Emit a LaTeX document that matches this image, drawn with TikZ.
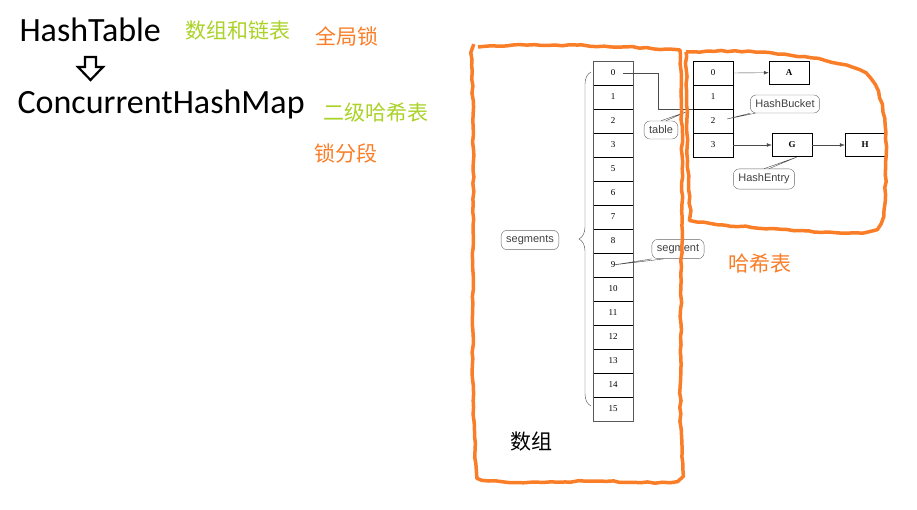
\documentclass[tikz,border=0pt]{standalone}
\usepackage{fontspec}
\setmainfont{Liberation Sans}
\newfontfamily\calfont{Carlito}
\newfontfamily\cjk{Noto Sans CJK SC}
\newfontfamily\ser{Liberation Serif}
\usetikzlibrary{decorations.pathmorphing,arrows.meta,decorations.pathreplacing}
\definecolor{og}{RGB}{250,125,40}
\definecolor{gr}{RGB}{170,210,40}
\tikzset{
 cell/.style={draw,minimum width=40pt,minimum height=24pt,inner sep=0,font=\ser\fontsize{9}{10}\selectfont},
 bx/.style={draw,minimum width=40pt,minimum height=23pt,inner sep=0,font=\ser\bfseries\fontsize{9}{10}\selectfont},
 call/.style={draw=gray!80!black,rounded corners=6pt,inner xsep=5pt,inner ysep=5pt,font=\fontsize{11}{12}\selectfont,text=black!75},
 hand/.style={draw=og,line width=3.5pt,line join=round,decorate,decoration={random steps,segment length=7pt,amplitude=0.8pt}},
 big/.style={font=\calfont\fontsize{34}{36}\selectfont,anchor=west},
 cn/.style={font=\cjk\fontsize{21}{23}\selectfont}
}
\begin{document}
\begin{tikzpicture}[x=1pt,y=-1pt]
\useasboundingbox (0,0) rectangle (917,510);
\node[big] (ht) at (16,30) {HashTable};
\node[cn,text=gr] (t1) at (238,31) {数组和链表};
\node[cn,text=og] (t2) at (347,36) {全局锁};
\node[big] (chm) at (14,104) {ConcurrentHashMap};
\node[cn,text=gr] (t3) at (376,113) {二级哈希表};
\node[cn,text=og] (t4) at (346,154) {锁分段};
\draw[line width=2.2pt,line join=miter] (85,57)--(96,57)--(96,67)--(103,67)--(90.5,80)--(78,67)--(85,67)--cycle;
% segments array
\foreach \l [count=\i from 0] in {0,1,2,3,5,6,7,8,9,10,11,12,13,14,15}
  \node[cell] (s\i) at (613,{73+24*\i}) {\l};
\draw[gray!70!black] (593,61) rectangle (633,421);
% brace
\draw[gray!60!black,decorate,decoration={brace,amplitude=12pt}] (591,406) -- (591,72);
\node[call] (segs) at (530,240) {segments};
\node[call] (seg) at (678,249) {segment};
\draw[gray!60!black] (seg.south west)++(12,0) -- (s8.center) -- (seg.south west)++(25,0);
% hash table
\foreach \l [count=\i from 0] in {0,1,2,3}
  \node[cell] (h\i) at (713,{73+24*\i}) {\l};
\node[bx] (A) at (789,72.5) {A};
\node[bx] (G) at (792,145) {G};
\node[bx] (H) at (865,145) {H};
\draw[gray!60!black,-{Latex[length=5pt]}] (h0.east) -- (A);
\draw[gray!60!black,-{Latex[length=5pt]}] (h3.east) -- (G);
\draw[gray!60!black,-{Latex[length=5pt]}] (G) -- (H);
\draw[gray!60!black] (s0.center)++(10,0) -- (658,73) -- (658,109) -- (693,109);
\node[call] (tbl) at (661,130) {table};
\draw[gray!60!black] (tbl.north)++(5,0) -- (686,112) -- (tbl.north)++(15,0);
\node[call] (hb) at (785,104) {HashBucket};
\draw[gray!60!black] (hb.south west)++(5,0) -- (727,119) -- (hb.south west)++(15,0);
\node[call] (he) at (764,179) {HashEntry};
\draw[gray!60!black] (he.north)++(5,0) -- (797,157) -- (he.north)++(20,0);
% hand loops
\draw[hand] (478,47) .. controls (560,42) and (640,48) .. (680,50)
  .. controls (686,200) and (676,400) .. (683,470) .. controls (684,484) and (670,484) .. (600,481)
  .. controls (540,482) and (490,484) .. (477,478) .. controls (468,380) and (476,200) .. (472,60)
  .. controls (471,50) and (474,48) .. (478,47);
\draw[hand] (686,52) .. controls (760,48) and (830,58) .. (860,70)
  .. controls (890,85) and (888,150) .. (884,210) .. controls (882,232) and (870,232) .. (850,233)
  .. controls (800,232) and (730,226) .. (697,222) .. controls (686,220) and (688,150) .. (686,52);
\node[cn,text=og] (hx) at (760,264) {哈希表};
\node[cn] (sz) at (531,442) {数组};
\end{tikzpicture}
\end{document}
